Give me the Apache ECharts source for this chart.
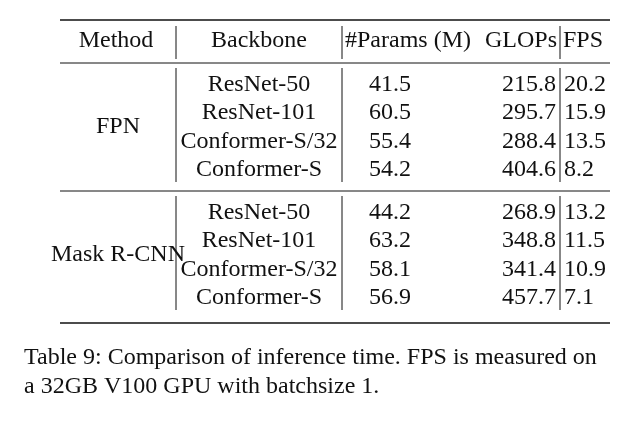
<!DOCTYPE html>
<html>
<head>
<meta charset="utf-8">
<script src="https://cdn.jsdelivr.net/npm/echarts@6/dist/echarts.min.js"></script>
<style>
  * { margin: 0; padding: 0; }
  html, body, #main { width: 636px; height: 421px; background: #fff; }
</style>
</head>
<body>
<div id="main"></div>
<script>
var headers = ["Method", "Backbone", "#Params (M)", "GLOPs", "FPS"];
var methods = ["FPN", "Mask R-CNN"];
var backbones = ["ResNet-50", "ResNet-101", "Conformer-S/32", "Conformer-S"];
var params = [[41.5, 60.5, 55.4, 54.2], [44.2, 63.2, 58.1, 56.9]];
var glops = [[215.8, 295.7, 288.4, 404.6], [268.9, 348.8, 341.4, 457.7]];
var fps = [[20.2, 15.9, 13.5, 8.2], [13.2, 11.5, 10.9, 7.1]];
var caption = [
  "Table 9: Comparison of inference time. FPS is measured on",
  "a 32GB V100 GPU with batchsize 1."
];

var chart = echarts.init(document.getElementById("main"));
var font = '"Liberation Serif", "Times New Roman", serif';
var fs = 24;
var els = [];

function txt(s, x, y, align) {
  els.push({ type: "text", style: { text: s, x: x, y: y, font: fs + "px " + font,
    fill: "#111", textAlign: align || "center", textVerticalAlign: "middle" } });
}
function line(x1, y1, x2, y2, w) {
  els.push({ type: "line", shape: { x1: x1, y1: y1, x2: x2, y2: y2 },
    style: { stroke: "#111", lineWidth: w || 1 } });
}

var left = 60, right = 610;
var vx = [176, 342, 560];
var topY = 20, headY = 41, headRule = 63;
var rowH = 28.5;
var groupTop = [70, 198];
var bottomY = 323;

line(left, topY, right, topY, 1.6);
line(left, headRule, right, headRule, 1);
line(left, 191, right, 191, 1);
line(left, bottomY, right, bottomY, 1.6);

txt(headers[0], 116, headY);
txt(headers[1], 259, headY);
txt(headers[2], 345, headY, "left");
txt(headers[3], 557, headY, "right");
txt(headers[4], 563, headY, "left");
vx.forEach(function (x) { line(x, topY + 6, x, headRule - 4); });

methods.forEach(function (m, g) {
  var y0 = groupTop[g];
  txt(m, 118, y0 + rowH * 2);
  vx.forEach(function (x) { line(x, y0 - 2, x, y0 + rowH * 4 - 2); });
  backbones.forEach(function (b, i) {
    var y = y0 + rowH * i + rowH / 2;
    txt(b, 259, y);
    txt(params[g][i].toFixed(1), 411, y, "right");
    txt(glops[g][i].toFixed(1), 556, y, "right");
    txt(fps[g][i].toFixed(1), 564, y, "left");
  });
});

caption.forEach(function (c, i) {
  txt(c, 24, 358 + i * 29, "left");
});

chart.setOption({ animation: false, graphic: { elements: els } });
</script>
</body>
</html>
